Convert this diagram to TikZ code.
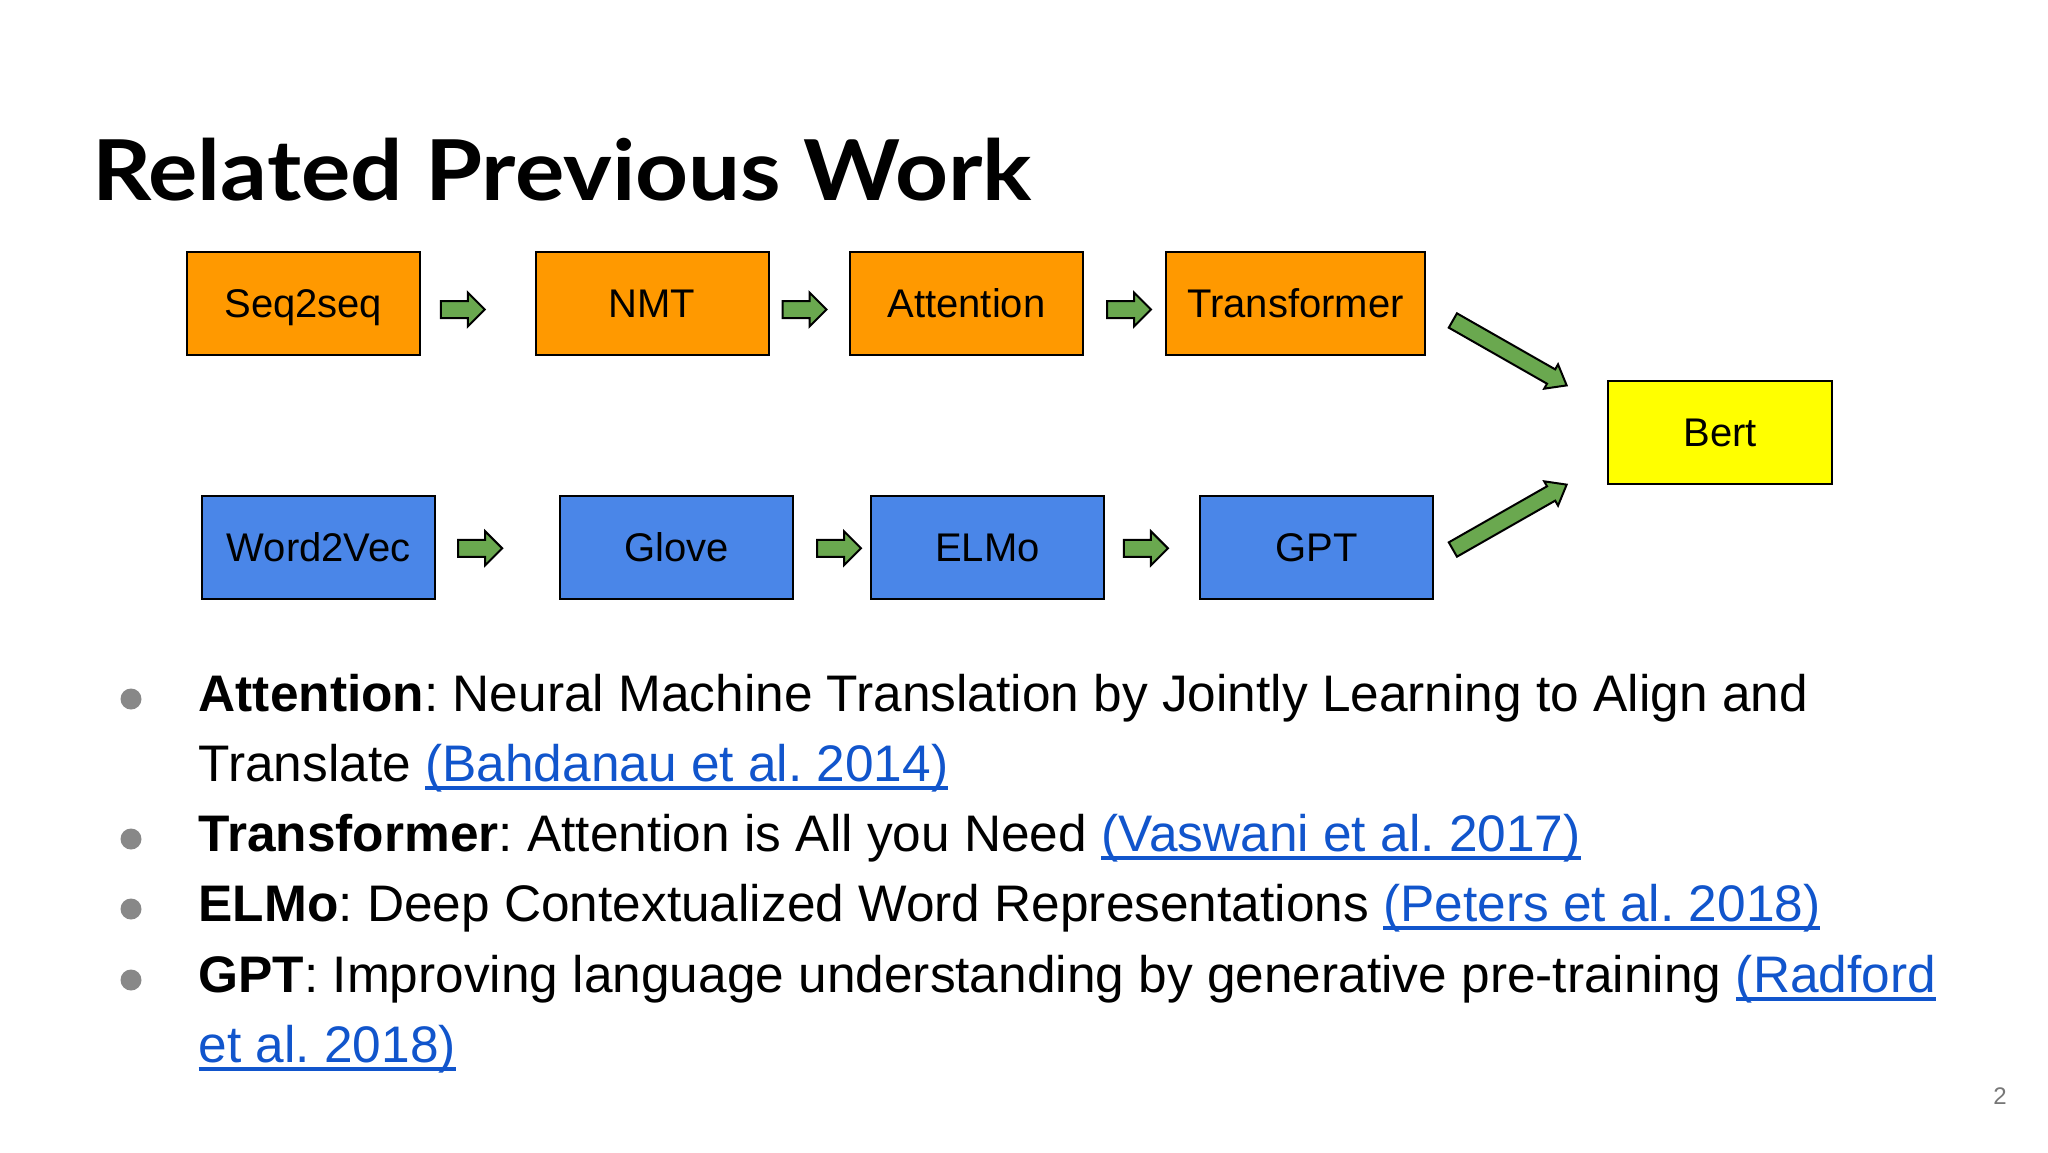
\documentclass[tikz,border=0pt]{standalone}
\usepackage{fontspec}
\setmainfont{Liberation Sans}
\newfontfamily\titlefont{Lato}
\usetikzlibrary{shapes.arrows,calc}
\frenchspacing
\definecolor{boxorange}{HTML}{FF9900}
\definecolor{boxblue}{HTML}{4A86E8}
\definecolor{boxyellow}{HTML}{FFFF00}
\definecolor{arrgreen}{HTML}{6AA84F}
\definecolor{linkblue}{HTML}{1155CC}
\definecolor{bulgray}{HTML}{888888}
\definecolor{numgray}{HTML}{777777}
\newcommand{\lnk}[1]{\textcolor{linkblue}{\setbox0\hbox{#1}\rlap{\rule[-8.5pt]{\wd0}{3.5pt}}\box0}}
\tikzset{
  box/.style={draw=black, line width=2pt, inner sep=0pt, minimum width=233pt,
    minimum height=102.5pt, text height=28.6pt, text depth=0pt,
    font=\fontsize{40}{48}\selectfont},
  orangebox/.style={box, fill=boxorange},
  bluebox/.style={box, fill=boxblue},
  yellowbox/.style={box, fill=boxyellow, minimum width=224pt},
  smallarrow/.style={single arrow, draw=black, fill=arrgreen, line width=2pt,
    minimum height=44pt, minimum width=32pt, single arrow head extend=8.5pt,
    inner xsep=0pt, inner ysep=7.5pt, anchor=tail},
  bigarrow/.style={single arrow, draw=black, fill=arrgreen, line width=2pt,
    minimum height=131pt, minimum width=26pt, single arrow head extend=5.75pt,
    single arrow tip angle=76, inner xsep=0pt, inner ysep=7.25pt, anchor=tail},
  bullettext/.style={anchor=base west, inner sep=0pt, font=\fontsize{51.4}{70}\selectfont},
  bulletdot/.style={circle, fill=bulgray, inner sep=0pt, minimum size=21pt}
}
\begin{document}
\begin{tikzpicture}[x=1pt,y=-1pt]
\useasboundingbox[fill=white] (0,0) rectangle (2048,1152);
% title
\node[anchor=base west, inner sep=0pt] (title) at (92,200)
  {\scalebox{1.1}[1]{\titlefont\bfseries\fontsize{84}{100}\selectfont Related Previous Work}};
% top row
\node[orangebox] (seq) at (303.3,303.5) {Seq2seq};
\node[orangebox] (nmt) at (652,303.5) {NMT};
\node[orangebox] (att) at (966.5,303.5) {Attention};
\node[orangebox, minimum width=259pt] (trf) at (1295.5,303.5) {Transformer};
% bottom row
\node[bluebox] (w2v) at (318.7,547.3) {Word2Vec};
\node[bluebox] (glv) at (676.5,547.3) {Glove};
\node[bluebox] (elm) at (987.4,547.3) {ELMo};
\node[bluebox] (gpt) at (1316.5,547.3) {GPT};
% bert
\node[yellowbox] (bert) at (1720,432.5) {Bert};
% small arrows
\node[smallarrow] (a1) at ($(seq.east)+(19,6)$) {};
\node[smallarrow] (a2) at ($(nmt.east)+(12,6)$) {};
\node[smallarrow] (a3) at ($(att.east)+(22,6)$) {};
\node[smallarrow] (b1) at ($(w2v.east)+(21,1)$) {};
\node[smallarrow] (b2) at ($(glv.east)+(22,1)$) {};
\node[smallarrow] (b3) at ($(elm.east)+(18,1)$) {};
% diagonal arrows
\node[bigarrow, rotate=-29.7] (d1) at ($(trf.east)+(26,16.5)$) {};
\node[bigarrow, rotate=29.7] (d2) at ($(gpt.east)+(18,2.7)$) {};
% bullets
\node[bulletdot] (p1) at (131,699) {};
\node[bulletdot] (p2) at (131,839) {};
\node[bulletdot] (p3) at (131,909) {};
\node[bulletdot] (p4) at (131,980) {};
\node[bullettext] (t1) at (198.5,711) {\textbf{Attention}: Neural Machine Translation by Jointly Learning to Align and};
\node[bullettext] (t2) at (198.5,781) {Translate \lnk{(Bahdanau et al. 2014)}};
\node[bullettext] (t3) at (198.5,851) {\textbf{Transformer}: Attention is All you Need \lnk{(Vaswani et al. 2017)}};
\node[bullettext] (t4) at (198.5,921) {\textbf{ELMo}: Deep Contextualized Word Representations \lnk{(Peters et al. 2018)}};
\node[bullettext] (t5) at (198.5,992) {\textbf{GPT}: Improving language understanding by generative pre-training \lnk{(Radford}};
\node[bullettext] (t6) at (198.5,1062) {\lnk{et al. 2018)}};
% page number
\node[anchor=base, inner sep=0pt, text=numgray, font=\fontsize{24}{28}\selectfont] (pg) at (2000,1104) {2};
\end{tikzpicture}
\end{document}
